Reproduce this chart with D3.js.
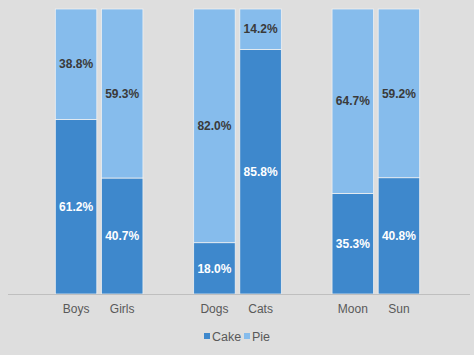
<!DOCTYPE html>
<html>
<head>
<meta charset="utf-8">
<script src="https://cdn.jsdelivr.net/npm/d3@7"></script>
<style>
  html, body { margin: 0; padding: 0; background: #dedede; }
  svg { display: block; }
  text { font-family: "Liberation Sans", Arial, sans-serif; }
</style>
</head>
<body>
<svg id="chart" width="474" height="355"></svg>
<script>
const categories = ["Boys", "Girls", "", "Dogs", "Cats", "", "Moon", "Sun"];
const cake = [61.2, 40.7, null, 18.0, 85.8, null, 35.3, 40.8];
const pie  = [38.8, 59.3, null, 82.0, 14.2, null, 64.7, 59.2];
const seriesNames = ["Cake", "Pie"];
const colors = ["#3e88cc", "#86bcec"];
const labelColors = ["#ffffff", "#3a3a3a"];

const svg = d3.select("#chart");
const W = 474, H = 355;
svg.append("rect").attr("width", W).attr("height", H).attr("fill", "#dedede");

const x = d3.scaleBand().domain(d3.range(categories.length)).range([53, 422]).paddingInner(0.1).paddingOuter(0.05);
const y = d3.scaleLinear().domain([0, 100]).range([294, 9]);

const rows = categories.map((c, i) => ({ i, name: c, Cake: cake[i], Pie: pie[i] })).filter(d => d.Cake != null);
const stacked = d3.stack().keys(seriesNames)(rows);

stacked.forEach((s, si) => {
  const g = svg.append("g");
  g.selectAll("rect").data(s).join("rect")
    .attr("x", d => x(d.data.i))
    .attr("width", x.bandwidth())
    .attr("y", d => y(d[1]))
    .attr("height", d => y(d[0]) - y(d[1]))
    .attr("fill", colors[si])
    .attr("stroke", "#f2f2f2")
    .attr("stroke-width", 0.75);
  g.selectAll("text").data(s).join("text")
    .attr("x", d => x(d.data.i) + x.bandwidth() / 2)
    .attr("y", d => (y(d[0]) + y(d[1])) / 2)
    .attr("dy", "0.35em")
    .attr("text-anchor", "middle")
    .attr("font-size", 12)
    .attr("font-weight", "bold")
    .attr("fill", labelColors[si])
    .text(d => (d[1] - d[0]).toFixed(1) + "%");
});

// axis line
svg.append("line").attr("x1", 8).attr("x2", 470).attr("y1", 294.5).attr("y2", 294.5)
  .attr("stroke", "#bfbfbf").attr("stroke-width", 1);

// category labels
svg.append("g").selectAll("text").data(rows).join("text")
  .attr("x", d => x(d.i) + x.bandwidth() / 2)
  .attr("y", 313)
  .attr("text-anchor", "middle")
  .attr("font-size", 12)
  .attr("fill", "#595959")
  .text(d => d.name);

// legend
const legend = svg.append("g");
const lx = [204, 244];
seriesNames.forEach((n, i) => {
  legend.append("rect").attr("x", lx[i]).attr("y", 333).attr("width", 6).attr("height", 6).attr("fill", colors[i]);
  legend.append("text").attr("x", lx[i] + 8).attr("y", 340.5).attr("font-size", 12.5).attr("fill", "#595959").text(n);
});
</script>
</body>
</html>
